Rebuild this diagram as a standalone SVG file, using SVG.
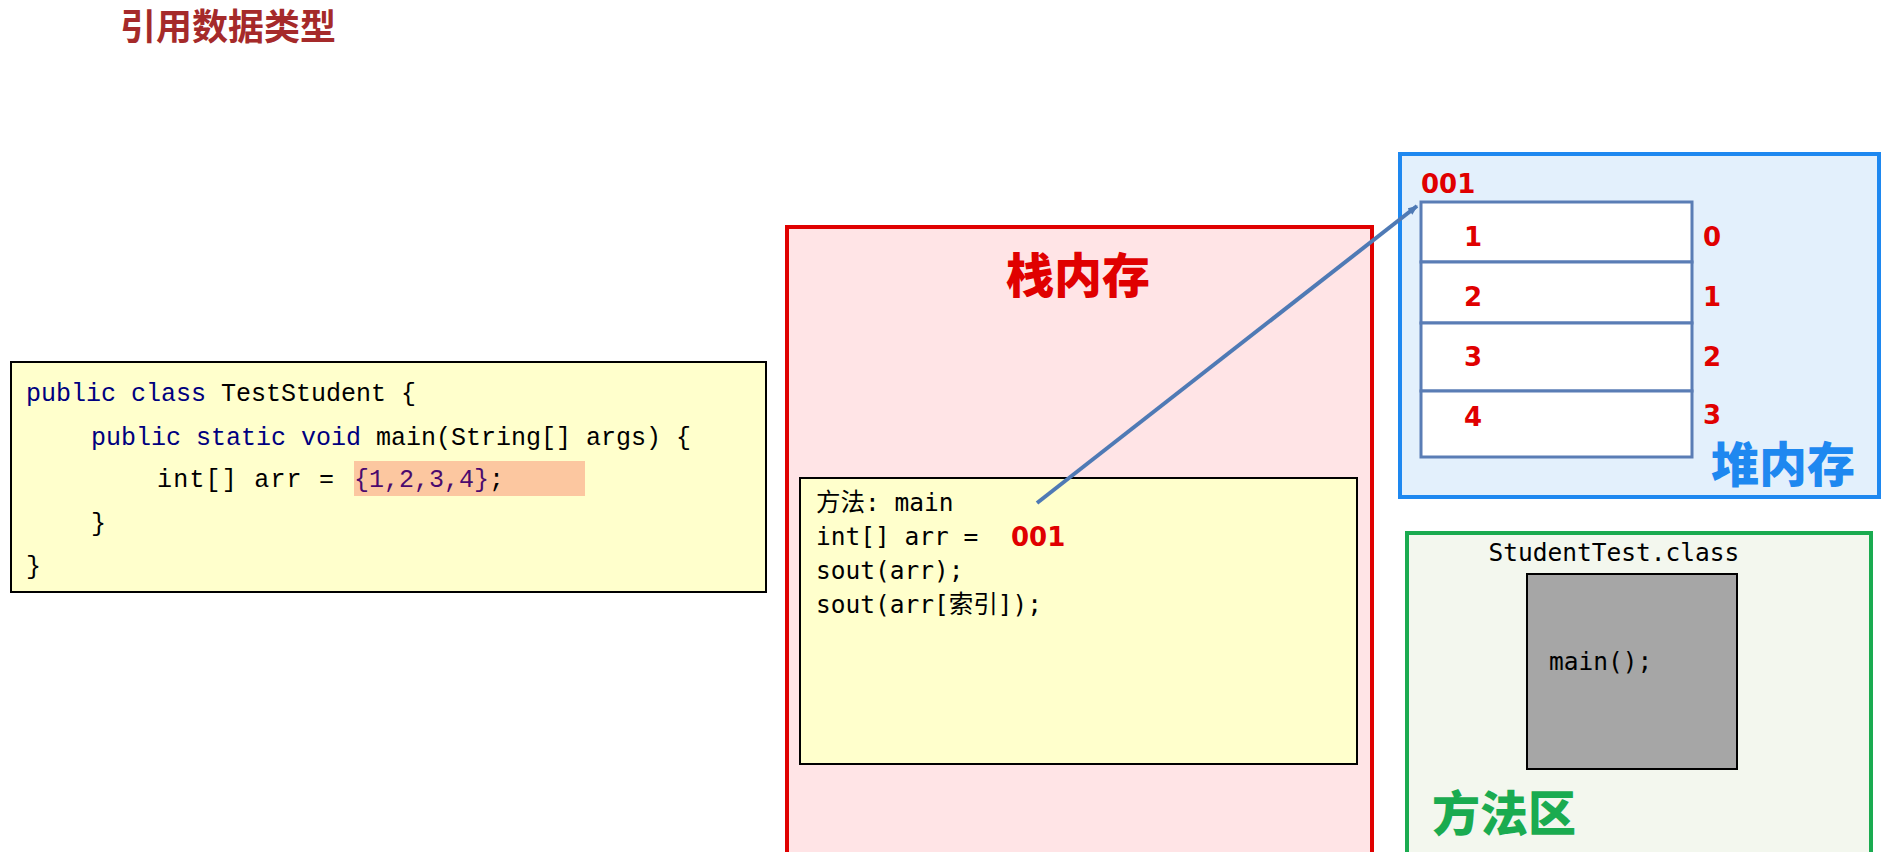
<svg xmlns="http://www.w3.org/2000/svg" width="1887" height="852" viewBox="0 0 1887 852">
<style>
.code{font-family:"Liberation Mono","DejaVu Sans Mono",monospace;font-size:25px;fill:#000}
.kw{fill:#00007f}
.val{fill:#4b0a6e}
.mono{font-family:"DejaVu Sans Mono","Liberation Mono","Noto Sans CJK SC",monospace;font-size:24.5px;fill:#000}
.red{font-family:"DejaVu Sans","Liberation Sans",sans-serif;font-weight:bold;fill:#e00000;font-size:26px}
.big{font-family:"Noto Sans CJK SC",sans-serif;font-weight:900;font-size:48px}
.cell{fill:#fff;stroke:#5a7db5;stroke-width:3}
</style>
<defs>
<marker id="ah" markerWidth="10" markerHeight="8" refX="9" refY="4" orient="auto" markerUnits="userSpaceOnUse" viewBox="0 0 10 8"><path d="M0,0 L10,4 L0,8 z" fill="#4f7ab5"/></marker>
</defs>
<rect width="1887" height="852" fill="#fff"/>
<text x="120" y="40" font-family="Noto Sans CJK SC,sans-serif" font-weight="bold" font-size="36" fill="#a52a2a">引用数据类型</text>
<g id="code">
<rect x="11" y="362" width="755" height="230" fill="#ffffcc" stroke="#000" stroke-width="2"/>
<rect x="354" y="461" width="231" height="35" fill="#fcc7a0"/>
<text class="code" x="26" y="401"><tspan class="kw">public class</tspan> TestStudent {</text>
<text class="code" x="91" y="445"><tspan class="kw">public static void</tspan> main(String[] args) {</text>
<text class="code" x="157" y="487" letter-spacing="1.2">int[] arr = <tspan class="val" x="354" letter-spacing="0">{1,2,3,4}</tspan>;</text>
<text class="code" x="91" y="531">}</text>
<text class="code" x="26" y="574">}</text>
</g>
<g id="stack">
<rect x="787" y="227" width="585" height="630" fill="#ffe4e6" stroke="#e00000" stroke-width="4"/>
<text class="big" x="1078" y="293" text-anchor="middle" fill="#e00000">栈内存</text>
<rect x="800" y="478" width="557" height="286" fill="#ffffcc" stroke="#000" stroke-width="2"/>
<text class="mono" x="816" y="511">方法: main</text>
<text class="mono" x="816" y="545">int[] arr =</text>
<text class="red" x="1011" y="546" font-size="28">001</text>
<text class="mono" x="816" y="579">sout(arr);</text>
<text class="mono" x="816" y="613">sout(arr[索引]);</text>
</g>
<g id="heap">
<rect x="1400" y="154" width="479" height="343" fill="#e3f0fc" stroke="#1e88f0" stroke-width="4"/>
<text class="red" x="1421" y="193">001</text>
<rect class="cell" x="1421" y="202" width="271" height="60"/>
<rect class="cell" x="1421" y="262" width="271" height="61"/>
<rect class="cell" x="1421" y="323" width="271" height="68"/>
<rect class="cell" x="1421" y="391" width="271" height="66"/>
<g class="red" text-anchor="middle">
<text x="1473" y="246">1</text><text x="1473" y="306">2</text><text x="1473" y="366">3</text><text x="1473" y="426">4</text>
<text x="1712" y="246">0</text><text x="1712" y="306">1</text><text x="1712" y="366">2</text><text x="1712" y="424">3</text>
</g>
<text class="big" x="1711" y="482" fill="#1e88f0">堆内存</text>
</g>
<g id="method">
<rect x="1407" y="533" width="464" height="325" fill="#f3f7ee" stroke="#1aab50" stroke-width="4"/>
<text class="mono" x="1614" y="561" text-anchor="middle" font-size="21">StudentTest.class</text>
<rect x="1527" y="574" width="210" height="195" fill="#a6a6a6" stroke="#000" stroke-width="2"/>
<text class="mono" x="1549" y="670">main();</text>
<text class="big" x="1432" y="831" fill="#1aab50">方法区</text>
</g>
<g id="connectors">
<line x1="1037" y1="503" x2="1417" y2="206" stroke="#4f7ab5" stroke-width="4" marker-end="url(#ah)"/>
</g>
</svg>
